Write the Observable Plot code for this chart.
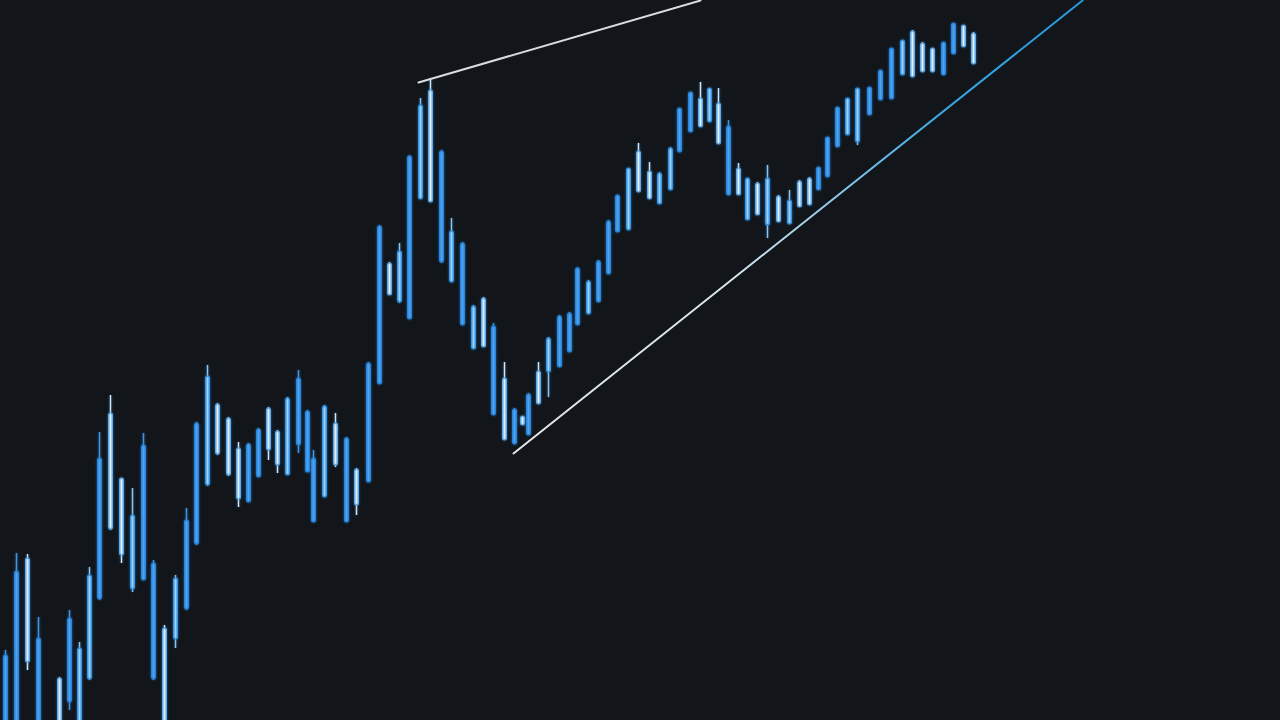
<!DOCTYPE html>
<html>
<head>
<meta charset="utf-8">
<script src="https://cdn.jsdelivr.net/npm/d3@7"></script>
<script src="https://cdn.jsdelivr.net/npm/@observablehq/plot@0.6"></script>
<style>
  html, body { margin: 0; padding: 0; background: #121519; overflow: hidden; }
  #chart svg { display: block; overflow: hidden; }
</style>
</head>
<body>
<div id="chart"></div>
<script>
// Bar time (session units)
const time = [0.5,1.6,2.7,3.8,4.8,5.9,6.9,7.9,8.9,9.9,11.0,12.1,13.2,14.3,15.3,16.4,17.5,18.6,19.6,20.7,
  21.7,22.8,23.8,24.8,25.8,26.8,27.7,28.7,29.8,30.7,31.3,32.4,33.5,34.6,35.6,36.8,37.9,38.9,39.9,40.9,
  42.0,43.0,44.1,45.1,46.2,47.3,48.3,49.3,50.4,51.4,52.2,52.8,53.8,54.8,55.9,56.9,57.7,58.8,59.8,60.8,
  61.7,62.8,63.8,64.9,65.9,67.0,67.9,69.0,70.0,70.9,71.8,72.8,73.8,74.7,75.7,76.7,77.8,78.9,79.9,80.9,
  81.8,82.7,83.7,84.7,85.7,86.9,88.0,89.1,90.2,91.2,92.2,93.2,94.3,95.3,96.3,97.3];
const open = [99.0,99.0,116.0,99.0,96.0,104.0,102.0,107.0,114.3,112.3,130.5,124.0,120.3,114.2,104.3,109.0,114.0,111.3,117.8,134.2,
  131.4,130.0,127.0,122.0,124.5,131.0,128.7,132.0,127.7,125.0,120.0,131.2,129.5,120.0,124.9,124.0,133.8,145.5,146.7,140.3,
  161.3,162.8,146.0,148.7,139.7,141.2,142.0,130.7,134.0,127.8,130.2,128.7,134.7,138.0,135.5,137.0,139.7,143.7,142.0,144.8,
  149.0,155.0,156.7,154.7,154.5,157.0,157.0,159.0,162.0,163.0,161.5,152.7,155.0,154.0,153.5,154.0,152.2,151.8,153.7,154.0,
  153.2,154.5,157.5,162.0,163.0,160.7,162.2,162.3,167.8,168.7,167.5,167.0,164.7,166.8,169.3,168.5];
const high = [107.0,116.7,116.6,110.3,99.8,104.3,111.0,107.8,115.3,128.8,132.5,124.2,123.2,128.7,116.0,109.5,114.5,121.2,129.8,135.5,
  131.7,130.3,127.8,127.7,129.2,131.3,129.0,132.3,135.0,131.0,127.0,131.5,130.7,128.3,125.2,135.8,149.5,145.8,147.7,156.5,
  162.2,164.2,157.0,150.2,147.8,141.5,142.3,139.7,135.8,131.2,130.3,132.7,135.8,138.3,140.5,140.8,145.3,144.0,146.0,150.0,
  152.5,155.2,157.7,155.8,154.8,157.3,161.2,162.8,163.8,163.2,163.2,160.0,155.7,154.2,153.8,155.5,152.5,153.0,154.0,154.3,
  155.3,158.3,161.3,162.2,163.2,163.3,165.0,167.2,168.0,169.0,167.8,167.2,167.8,169.7,169.5,168.8];
const low = [98.0,98.0,105.0,98.0,95.0,98.0,101.0,98.0,104.0,112.0,119.0,115.7,112.8,114.0,104.0,98.0,107.2,111.0,117.5,123.4,
  126.5,124.4,121.3,121.8,124.3,126.0,124.7,124.5,126.7,124.8,119.8,122.3,125.3,119.8,120.5,123.8,133.6,142.5,141.7,140.1,
  152.1,151.8,145.7,143.8,139.5,137.1,137.3,130.5,128.0,127.6,129.6,128.5,131.6,132.3,135.3,136.8,139.5,140.6,141.8,144.6,
  148.8,149.0,152.8,152.1,151.6,153.0,156.8,158.8,159.3,159.8,157.6,152.5,152.5,150.0,150.5,148.2,149.8,149.6,151.3,151.5,
  153.0,154.3,157.3,158.5,157.5,160.5,162.0,162.1,164.5,164.3,164.8,164.8,164.5,166.6,167.3,165.6];
const close = [106.3,114.7,106.0,108.0,99.5,99.0,110.0,99.0,104.3,126.0,119.3,116.7,113.3,127.3,115.5,99.0,108.3,119.8,129.5,123.7,
  126.8,124.7,122.3,127.4,128.9,127.2,125.7,124.7,134.0,130.7,126.0,122.5,125.7,128.0,121.7,135.5,149.2,142.7,142.0,156.2,
  152.3,152.0,156.7,144.0,147.5,137.3,137.5,139.2,128.2,130.9,129.7,132.4,131.8,135.0,140.2,140.5,145.0,140.8,145.7,149.7,
  152.3,149.2,153.0,152.3,151.8,153.2,161.0,162.6,159.5,160.0,157.8,159.2,152.7,150.2,150.7,149.7,150.0,149.8,151.5,151.7,
  155.1,158.1,161.1,158.7,158.0,163.1,164.8,167.0,164.7,164.5,165.0,165.0,167.6,169.5,167.5,165.8];
// Candle tone: b = blue, l = light blue, w = white
const tone = ["b","b","w","b","b","w","b","l","l","b","w","w","l","b","b","w","l","b","b","l",
  "w","w","w","b","b","w","w","l","b","b","b","l","w","b","w","b","b","w","l","b",
  "l","w","b","l","b","l","w","b","w","b","w","b","w","l","b","b","b","l","b","b",
  "b","l","w","w","l","l","b","b","w","l","w","b","w","l","w","l","w","l","w","w",
  "b","b","b","l","l","b","b","b","l","w","w","w","b","b","w","w"];

// Trendlines (time, price)
const resistanceT = [41.8, 70.0];
const resistanceP = [163.8, 172.0];
const supportT = [51.3, 108.2];
const supportP = [126.7, 172.0];

// Palettes per tone
const edgeColor = {b: "#2885de", l: "#3596e4", w: "#66ade6"};
const coreColor = {b: "#4ea3ee", l: "#9fd0f5", w: "#e2eff9"};
const wickColor = {b: "#3f95e6", l: "#8cc4f0", w: "#d2e6f6"};

const candles = time.map((t, i) => ({t, open: open[i], high: high[i], low: low[i], close: close[i], tone: tone[i]}));
const resistance = resistanceT.map((t, i) => ({t, p: resistanceP[i]}));
const support = supportT.map((t, i) => ({t, p: supportP[i]}));

const chart = Plot.plot({
  width: 1280,
  height: 720,
  margin: 0,
  style: {background: "#121519", overflow: "hidden"},
  x: {domain: [0, 128], axis: null},
  y: {domain: [100, 172], axis: null},
  color: {type: "identity"},
  marks: [
    Plot.ruleX(candles, {x: "t", y1: "low", y2: "high", stroke: d => wickColor[d.tone], strokeWidth: 1.5, clip: true}),
    Plot.ruleX(candles, {x: "t", y1: "open", y2: "close", stroke: d => edgeColor[d.tone], strokeWidth: 5, strokeLinecap: "round", clip: true}),
    Plot.ruleX(candles, {x: "t", y1: "open", y2: "close", stroke: d => coreColor[d.tone], strokeWidth: 2, strokeLinecap: "round", clip: true}),
    Plot.line(resistance, {x: "t", y: "p", stroke: "#d9dcdf", strokeWidth: 2}),
    Plot.line(support, {x: "t", y: "p", stroke: "url(#supportGrad)", strokeWidth: 2})
  ]
});

const svg = d3.select(chart);
const defs = svg.insert("defs", ":first-child");
const grad = defs.append("linearGradient").attr("id", "supportGrad")
  .attr("x1", "0%").attr("y1", "100%").attr("x2", "100%").attr("y2", "0%");
grad.append("stop").attr("offset", "0%").attr("stop-color", "#e4e6e8");
grad.append("stop").attr("offset", "40%").attr("stop-color", "#d5e6ef");
grad.append("stop").attr("offset", "75%").attr("stop-color", "#3aa6e0");
grad.append("stop").attr("offset", "100%").attr("stop-color", "#2597dc");
// soft glow on the candles
svg.selectAll("g[aria-label='rule']").style("filter", "drop-shadow(0 0 1.5px rgba(45,140,230,0.55))");

document.getElementById("chart").appendChild(chart);
</script>
</body>
</html>
